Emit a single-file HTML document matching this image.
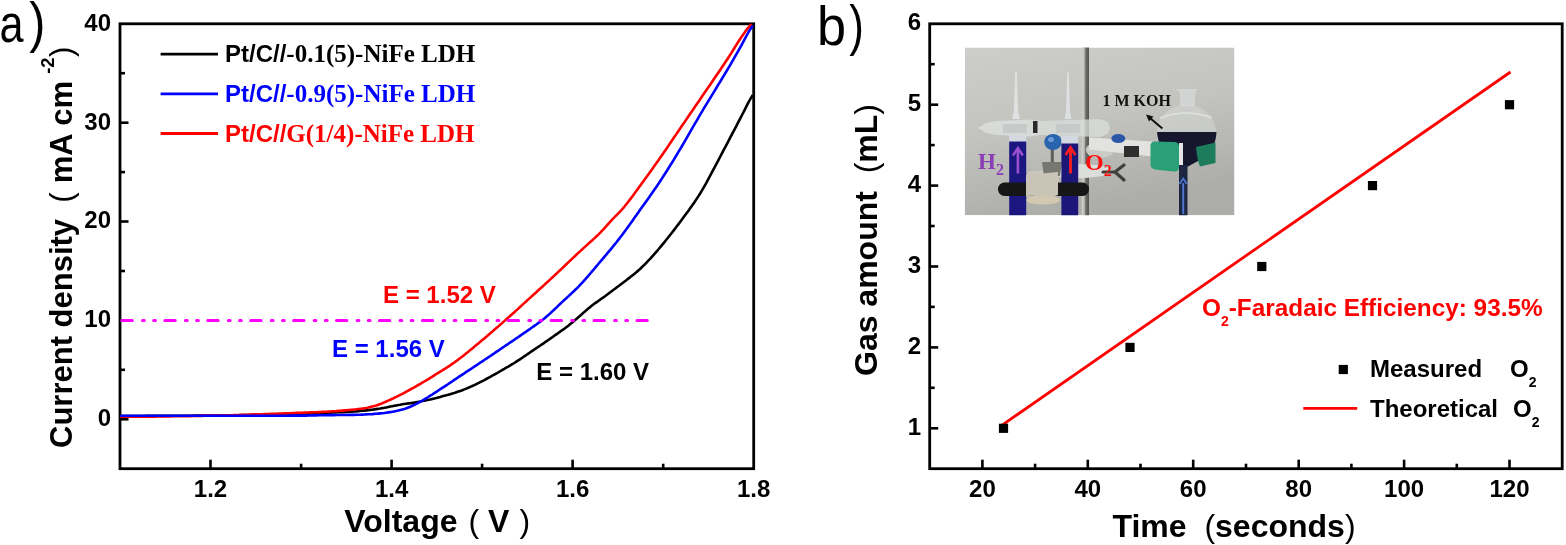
<!DOCTYPE html>
<html><head><meta charset="utf-8"><title>figure</title><style>html,body{margin:0;padding:0;background:#fff;overflow:hidden}svg{display:block}</style></head><body>
<svg width="1566" height="545" viewBox="0 0 1566 545">
<rect width="1566" height="545" fill="#fff"/>
<g font-family="'Liberation Sans', Arial, sans-serif" font-size="54" fill="#000"><text transform="translate(-0.5,41.8) scale(0.8,1)">a</text><text transform="translate(29.2,41.2) scale(0.88,1)" font-size="55">)</text></g>
<g font-family="'Liberation Sans', Arial, sans-serif" font-size="55" fill="#000"><text transform="translate(817,44.6) scale(0.95,1)">b</text><text transform="translate(849.3,43.6) scale(0.8,1)">)</text></g>
<rect x="120.0" y="23.8" width="633.7" height="444.9" fill="none" stroke="#000" stroke-width="2.8"/>
<line x1="120.0" y1="419.3" x2="128.5" y2="419.3" stroke="#000" stroke-width="2.6"/>
<line x1="120.0" y1="369.8" x2="125.0" y2="369.8" stroke="#000" stroke-width="2.6"/>
<line x1="120.0" y1="320.4" x2="128.5" y2="320.4" stroke="#000" stroke-width="2.6"/>
<line x1="120.0" y1="271.0" x2="125.0" y2="271.0" stroke="#000" stroke-width="2.6"/>
<line x1="120.0" y1="221.5" x2="128.5" y2="221.5" stroke="#000" stroke-width="2.6"/>
<line x1="120.0" y1="172.1" x2="125.0" y2="172.1" stroke="#000" stroke-width="2.6"/>
<line x1="120.0" y1="122.7" x2="128.5" y2="122.7" stroke="#000" stroke-width="2.6"/>
<line x1="120.0" y1="73.2" x2="125.0" y2="73.2" stroke="#000" stroke-width="2.6"/>
<text x="111" y="426.1" text-anchor="end" font-family="'Liberation Sans', Arial, sans-serif" font-weight="bold" font-size="24">0</text>
<text x="111" y="327.2" text-anchor="end" font-family="'Liberation Sans', Arial, sans-serif" font-weight="bold" font-size="24">10</text>
<text x="111" y="228.3" text-anchor="end" font-family="'Liberation Sans', Arial, sans-serif" font-weight="bold" font-size="24">20</text>
<text x="111" y="129.5" text-anchor="end" font-family="'Liberation Sans', Arial, sans-serif" font-weight="bold" font-size="24">30</text>
<text x="111" y="30.6" text-anchor="end" font-family="'Liberation Sans', Arial, sans-serif" font-weight="bold" font-size="24">40</text>
<line x1="210.5" y1="468.7" x2="210.5" y2="459.7" stroke="#000" stroke-width="2.6"/>
<line x1="301.1" y1="468.7" x2="301.1" y2="463.7" stroke="#000" stroke-width="2.6"/>
<line x1="391.6" y1="468.7" x2="391.6" y2="459.7" stroke="#000" stroke-width="2.6"/>
<line x1="482.1" y1="468.7" x2="482.1" y2="463.7" stroke="#000" stroke-width="2.6"/>
<line x1="572.6" y1="468.7" x2="572.6" y2="459.7" stroke="#000" stroke-width="2.6"/>
<line x1="663.2" y1="468.7" x2="663.2" y2="463.7" stroke="#000" stroke-width="2.6"/>
<text x="210.5" y="496.5" text-anchor="middle" font-family="'Liberation Sans', Arial, sans-serif" font-weight="bold" font-size="24">1.2</text>
<text x="391.6" y="496.5" text-anchor="middle" font-family="'Liberation Sans', Arial, sans-serif" font-weight="bold" font-size="24">1.4</text>
<text x="572.6" y="496.5" text-anchor="middle" font-family="'Liberation Sans', Arial, sans-serif" font-weight="bold" font-size="24">1.6</text>
<text x="753.7" y="496.5" text-anchor="middle" font-family="'Liberation Sans', Arial, sans-serif" font-weight="bold" font-size="24">1.8</text>
<path d="M120.3,416.0 L122.3,416.0 L124.3,416.0 L126.3,416.0 L128.3,416.0 L130.3,416.0 L132.3,416.0 L134.3,416.0 L136.3,416.0 L138.3,416.0 L140.3,416.0 L142.3,416.0 L144.3,416.0 L146.3,415.9 L148.3,415.9 L150.3,415.9 L152.3,415.9 L154.3,415.9 L156.3,415.9 L158.3,415.9 L160.3,415.9 L162.3,415.9 L164.3,415.9 L166.3,415.8 L168.3,415.8 L170.3,415.8 L172.3,415.8 L174.3,415.8 L176.3,415.8 L178.3,415.8 L180.3,415.7 L182.3,415.7 L184.3,415.7 L186.3,415.7 L188.3,415.7 L190.3,415.7 L192.3,415.7 L194.3,415.6 L196.3,415.6 L198.3,415.6 L200.3,415.6 L202.3,415.6 L204.3,415.6 L206.3,415.5 L208.3,415.5 L210.3,415.5 L212.3,415.5 L214.3,415.5 L216.3,415.5 L218.3,415.4 L220.3,415.4 L222.3,415.4 L224.3,415.4 L226.3,415.3 L228.3,415.3 L230.3,415.3 L232.3,415.3 L234.3,415.2 L236.3,415.2 L238.3,415.2 L240.3,415.1 L242.3,415.1 L244.3,415.1 L246.3,415.1 L248.3,415.0 L250.3,415.0 L252.3,414.9 L254.3,414.9 L256.3,414.9 L258.3,414.8 L260.3,414.8 L262.3,414.8 L264.3,414.7 L266.3,414.7 L268.3,414.6 L270.3,414.6 L272.3,414.5 L274.3,414.5 L276.3,414.5 L278.3,414.4 L280.3,414.4 L282.3,414.3 L284.3,414.3 L286.3,414.2 L288.3,414.2 L290.3,414.1 L292.3,414.1 L294.3,414.0 L296.3,414.0 L298.3,413.9 L300.3,413.8 L302.3,413.8 L304.3,413.7 L306.3,413.7 L308.3,413.6 L310.3,413.5 L312.3,413.4 L314.3,413.3 L316.3,413.2 L318.3,413.1 L320.3,413.0 L322.3,412.9 L324.3,412.9 L326.3,412.8 L328.3,412.7 L330.3,412.6 L332.3,412.5 L334.3,412.4 L336.3,412.4 L338.3,412.3 L340.3,412.2 L342.3,412.1 L344.3,412.1 L346.3,412.0 L348.3,411.9 L350.3,411.8 L352.3,411.6 L354.3,411.5 L356.3,411.4 L358.3,411.2 L360.3,411.0 L362.3,410.8 L364.3,410.6 L366.3,410.4 L368.3,410.2 L370.3,409.9 L372.3,409.7 L374.3,409.4 L376.3,409.1 L378.3,408.8 L380.3,408.5 L382.3,408.1 L384.3,407.8 L386.3,407.4 L388.3,407.0 L390.3,406.6 L392.3,406.2 L394.3,405.8 L396.3,405.4 L398.3,405.0 L400.3,404.7 L402.3,404.3 L404.3,404.0 L406.3,403.7 L408.3,403.4 L410.3,403.2 L412.3,402.9 L414.3,402.5 L416.3,402.2 L418.3,401.9 L420.3,401.5 L422.3,401.1 L424.3,400.7 L426.3,400.3 L428.3,399.8 L430.3,399.4 L432.3,398.9 L434.3,398.4 L436.3,397.9 L438.3,397.4 L440.3,396.9 L442.3,396.3 L444.3,395.8 L446.3,395.3 L448.3,394.8 L450.3,394.2 L452.3,393.6 L454.3,393.0 L456.3,392.3 L458.3,391.6 L460.3,390.9 L462.3,390.2 L464.3,389.4 L466.3,388.6 L468.3,387.8 L470.3,386.9 L472.3,386.0 L474.3,385.1 L476.3,384.1 L478.3,383.1 L480.3,382.1 L482.3,381.1 L484.3,380.1 L486.3,379.0 L488.3,377.9 L490.3,376.8 L492.3,375.7 L494.3,374.6 L496.3,373.5 L498.3,372.3 L500.3,371.2 L502.3,370.0 L504.3,368.9 L506.3,367.7 L508.3,366.6 L510.3,365.4 L512.3,364.2 L514.3,363.0 L516.3,361.7 L518.3,360.4 L520.3,359.1 L522.3,357.7 L524.3,356.3 L526.3,355.0 L528.3,353.6 L530.3,352.2 L532.3,350.9 L534.3,349.5 L536.3,348.2 L538.3,346.8 L540.3,345.5 L542.3,344.1 L544.3,342.8 L546.3,341.4 L548.3,340.0 L550.3,338.6 L552.3,337.2 L554.3,335.8 L556.3,334.4 L558.3,333.0 L560.3,331.5 L562.3,330.1 L564.3,328.7 L566.3,327.2 L568.3,325.7 L570.3,324.1 L572.3,322.5 L574.3,320.8 L576.3,319.1 L578.3,317.3 L580.3,315.6 L582.3,313.8 L584.3,312.1 L586.3,310.3 L588.3,308.6 L590.3,306.9 L592.3,305.3 L594.3,303.8 L596.3,302.4 L598.3,301.0 L600.3,299.5 L602.3,298.1 L604.3,296.7 L606.3,295.2 L608.3,293.7 L610.3,292.2 L612.3,290.7 L614.3,289.2 L616.3,287.7 L618.3,286.2 L620.3,284.7 L622.3,283.2 L624.3,281.7 L626.3,280.2 L628.3,278.6 L630.3,277.1 L632.3,275.5 L634.3,273.9 L636.3,272.3 L638.3,270.5 L640.3,268.7 L642.3,266.8 L644.3,264.9 L646.3,262.8 L648.3,260.7 L650.3,258.6 L652.3,256.3 L654.3,254.1 L656.3,251.8 L658.3,249.5 L660.3,247.1 L662.3,244.7 L664.3,242.3 L666.3,239.8 L668.3,237.3 L670.3,234.8 L672.3,232.2 L674.3,229.6 L676.3,227.0 L678.3,224.4 L680.3,221.7 L682.3,219.0 L684.3,216.3 L686.3,213.6 L688.3,210.9 L690.3,208.1 L692.3,205.3 L694.3,202.4 L696.3,199.4 L698.3,196.4 L700.3,193.2 L702.3,189.8 L704.3,186.3 L706.3,182.8 L708.3,179.1 L710.3,175.3 L712.3,171.6 L714.3,167.8 L716.3,164.1 L718.3,160.3 L720.3,156.5 L722.3,152.7 L724.3,148.9 L726.3,145.1 L728.3,141.3 L730.3,137.4 L732.3,133.7 L734.3,129.9 L736.3,126.1 L738.3,122.2 L740.3,118.4 L742.3,114.5 L744.3,110.6 L746.3,106.6 L748.3,102.7 L750.3,99.0 L752.3,96.0 L752.5,94.8" fill="none" stroke="#000" stroke-width="2.6" stroke-linejoin="round"/>
<path d="M120.3,416.8 L122.3,416.8 L124.3,416.8 L126.3,416.8 L128.3,416.8 L130.3,416.8 L132.3,416.8 L134.3,416.7 L136.3,416.7 L138.3,416.7 L140.3,416.7 L142.3,416.7 L144.3,416.7 L146.3,416.7 L148.3,416.6 L150.3,416.6 L152.3,416.6 L154.3,416.6 L156.3,416.5 L158.3,416.5 L160.3,416.5 L162.3,416.5 L164.3,416.4 L166.3,416.4 L168.3,416.4 L170.3,416.4 L172.3,416.3 L174.3,416.3 L176.3,416.3 L178.3,416.2 L180.3,416.2 L182.3,416.2 L184.3,416.2 L186.3,416.1 L188.3,416.1 L190.3,416.1 L192.3,416.0 L194.3,416.0 L196.3,416.0 L198.3,415.9 L200.3,415.9 L202.3,415.9 L204.3,415.8 L206.3,415.8 L208.3,415.7 L210.3,415.7 L212.3,415.7 L214.3,415.6 L216.3,415.6 L218.3,415.6 L220.3,415.5 L222.3,415.5 L224.3,415.4 L226.3,415.4 L228.3,415.3 L230.3,415.3 L232.3,415.2 L234.3,415.1 L236.3,415.1 L238.3,415.0 L240.3,415.0 L242.3,414.9 L244.3,414.8 L246.3,414.8 L248.3,414.7 L250.3,414.6 L252.3,414.6 L254.3,414.5 L256.3,414.4 L258.3,414.4 L260.3,414.3 L262.3,414.2 L264.3,414.1 L266.3,414.1 L268.3,414.0 L270.3,413.9 L272.3,413.8 L274.3,413.8 L276.3,413.7 L278.3,413.6 L280.3,413.5 L282.3,413.5 L284.3,413.4 L286.3,413.3 L288.3,413.2 L290.3,413.2 L292.3,413.1 L294.3,413.0 L296.3,412.9 L298.3,412.8 L300.3,412.8 L302.3,412.7 L304.3,412.6 L306.3,412.5 L308.3,412.5 L310.3,412.4 L312.3,412.3 L314.3,412.2 L316.3,412.2 L318.3,412.1 L320.3,412.0 L322.3,411.9 L324.3,411.8 L326.3,411.7 L328.3,411.6 L330.3,411.5 L332.3,411.3 L334.3,411.2 L336.3,411.1 L338.3,410.9 L340.3,410.8 L342.3,410.6 L344.3,410.4 L346.3,410.2 L348.3,410.0 L350.3,409.9 L352.3,409.7 L354.3,409.5 L356.3,409.3 L358.3,409.0 L360.3,408.8 L362.3,408.6 L364.3,408.3 L366.3,408.0 L368.3,407.6 L370.3,407.1 L372.3,406.6 L374.3,406.1 L376.3,405.5 L378.3,404.8 L380.3,404.1 L382.3,403.3 L384.3,402.4 L386.3,401.5 L388.3,400.6 L390.3,399.7 L392.3,398.8 L394.3,397.8 L396.3,396.9 L398.3,395.9 L400.3,394.9 L402.3,393.9 L404.3,392.8 L406.3,391.7 L408.3,390.6 L410.3,389.5 L412.3,388.4 L414.3,387.3 L416.3,386.1 L418.3,385.0 L420.3,383.9 L422.3,382.7 L424.3,381.5 L426.3,380.3 L428.3,379.1 L430.3,377.8 L432.3,376.6 L434.3,375.3 L436.3,374.0 L438.3,372.8 L440.3,371.6 L442.3,370.4 L444.3,369.1 L446.3,367.9 L448.3,366.6 L450.3,365.3 L452.3,363.9 L454.3,362.5 L456.3,361.0 L458.3,359.6 L460.3,358.0 L462.3,356.5 L464.3,354.9 L466.3,353.3 L468.3,351.7 L470.3,350.1 L472.3,348.4 L474.3,346.8 L476.3,345.1 L478.3,343.4 L480.3,341.7 L482.3,340.1 L484.3,338.4 L486.3,336.7 L488.3,335.0 L490.3,333.3 L492.3,331.6 L494.3,329.8 L496.3,328.1 L498.3,326.4 L500.3,324.6 L502.3,322.9 L504.3,321.1 L506.3,319.3 L508.3,317.6 L510.3,315.8 L512.3,314.0 L514.3,312.2 L516.3,310.4 L518.3,308.6 L520.3,306.7 L522.3,304.9 L524.3,303.1 L526.3,301.3 L528.3,299.4 L530.3,297.6 L532.3,295.8 L534.3,294.0 L536.3,292.2 L538.3,290.3 L540.3,288.5 L542.3,286.7 L544.3,284.9 L546.3,283.0 L548.3,281.2 L550.3,279.4 L552.3,277.5 L554.3,275.6 L556.3,273.8 L558.3,271.9 L560.3,270.0 L562.3,268.1 L564.3,266.2 L566.3,264.3 L568.3,262.4 L570.3,260.5 L572.3,258.6 L574.3,256.7 L576.3,254.8 L578.3,252.9 L580.3,251.1 L582.3,249.2 L584.3,247.4 L586.3,245.6 L588.3,243.8 L590.3,242.0 L592.3,240.2 L594.3,238.4 L596.3,236.5 L598.3,234.6 L600.3,232.6 L602.3,230.5 L604.3,228.3 L606.3,226.1 L608.3,223.8 L610.3,221.6 L612.3,219.4 L614.3,217.4 L616.3,215.3 L618.3,213.3 L620.3,211.3 L622.3,209.1 L624.3,206.8 L626.3,204.3 L628.3,201.7 L630.3,199.1 L632.3,196.4 L634.3,193.7 L636.3,191.0 L638.3,188.2 L640.3,185.5 L642.3,182.8 L644.3,180.0 L646.3,177.3 L648.3,174.5 L650.3,171.7 L652.3,168.9 L654.3,166.1 L656.3,163.3 L658.3,160.4 L660.3,157.6 L662.3,154.7 L664.3,151.8 L666.3,148.9 L668.3,145.9 L670.3,143.0 L672.3,140.0 L674.3,137.1 L676.3,134.1 L678.3,131.2 L680.3,128.3 L682.3,125.3 L684.3,122.4 L686.3,119.5 L688.3,116.5 L690.3,113.6 L692.3,110.7 L694.3,107.7 L696.3,104.8 L698.3,101.9 L700.3,99.0 L702.3,96.0 L704.3,93.1 L706.3,90.2 L708.3,87.3 L710.3,84.4 L712.3,81.5 L714.3,78.5 L716.3,75.6 L718.3,72.7 L720.3,69.7 L722.3,66.8 L724.3,63.8 L726.3,60.8 L728.3,57.7 L730.3,54.6 L732.3,51.4 L734.3,48.2 L736.3,44.9 L738.3,41.8 L740.3,38.7 L742.3,35.7 L744.3,32.9 L746.3,30.1 L748.3,27.6 L750.3,25.5 L751.5,24.0" fill="none" stroke="#ff0000" stroke-width="2.6" stroke-linejoin="round"/>
<path d="M120.3,415.7 L122.3,415.7 L124.3,415.7 L126.3,415.7 L128.3,415.7 L130.3,415.7 L132.3,415.7 L134.3,415.7 L136.3,415.7 L138.3,415.7 L140.3,415.7 L142.3,415.7 L144.3,415.8 L146.3,415.8 L148.3,415.8 L150.3,415.8 L152.3,415.8 L154.3,415.8 L156.3,415.8 L158.3,415.8 L160.3,415.8 L162.3,415.8 L164.3,415.8 L166.3,415.8 L168.3,415.8 L170.3,415.8 L172.3,415.8 L174.3,415.8 L176.3,415.8 L178.3,415.8 L180.3,415.8 L182.3,415.8 L184.3,415.8 L186.3,415.8 L188.3,415.8 L190.3,415.8 L192.3,415.8 L194.3,415.8 L196.3,415.8 L198.3,415.8 L200.3,415.8 L202.3,415.8 L204.3,415.8 L206.3,415.8 L208.3,415.8 L210.3,415.8 L212.3,415.8 L214.3,415.8 L216.3,415.8 L218.3,415.8 L220.3,415.8 L222.3,415.8 L224.3,415.8 L226.3,415.8 L228.3,415.8 L230.3,415.8 L232.3,415.8 L234.3,415.8 L236.3,415.8 L238.3,415.8 L240.3,415.8 L242.3,415.8 L244.3,415.8 L246.3,415.8 L248.3,415.8 L250.3,415.8 L252.3,415.8 L254.3,415.8 L256.3,415.8 L258.3,415.7 L260.3,415.7 L262.3,415.7 L264.3,415.7 L266.3,415.7 L268.3,415.7 L270.3,415.7 L272.3,415.7 L274.3,415.7 L276.3,415.7 L278.3,415.7 L280.3,415.7 L282.3,415.7 L284.3,415.7 L286.3,415.7 L288.3,415.7 L290.3,415.6 L292.3,415.6 L294.3,415.6 L296.3,415.6 L298.3,415.6 L300.3,415.6 L302.3,415.6 L304.3,415.6 L306.3,415.6 L308.3,415.5 L310.3,415.5 L312.3,415.5 L314.3,415.4 L316.3,415.4 L318.3,415.3 L320.3,415.3 L322.3,415.2 L324.3,415.2 L326.3,415.2 L328.3,415.1 L330.3,415.1 L332.3,415.1 L334.3,415.1 L336.3,415.0 L338.3,415.0 L340.3,415.0 L342.3,415.0 L344.3,415.0 L346.3,415.0 L348.3,415.0 L350.3,414.9 L352.3,414.9 L354.3,414.9 L356.3,414.8 L358.3,414.8 L360.3,414.7 L362.3,414.6 L364.3,414.5 L366.3,414.4 L368.3,414.3 L370.3,414.2 L372.3,414.1 L374.3,413.9 L376.3,413.8 L378.3,413.6 L380.3,413.4 L382.3,413.2 L384.3,413.0 L386.3,412.7 L388.3,412.4 L390.3,412.1 L392.3,411.8 L394.3,411.4 L396.3,411.0 L398.3,410.6 L400.3,410.1 L402.3,409.6 L404.3,409.0 L406.3,408.3 L408.3,407.5 L410.3,406.7 L412.3,405.8 L414.3,404.9 L416.3,403.9 L418.3,402.8 L420.3,401.7 L422.3,400.6 L424.3,399.4 L426.3,398.2 L428.3,397.0 L430.3,395.7 L432.3,394.5 L434.3,393.2 L436.3,391.9 L438.3,390.5 L440.3,389.2 L442.3,387.9 L444.3,386.6 L446.3,385.3 L448.3,384.0 L450.3,382.6 L452.3,381.3 L454.3,379.9 L456.3,378.6 L458.3,377.2 L460.3,375.9 L462.3,374.6 L464.3,373.3 L466.3,371.9 L468.3,370.6 L470.3,369.3 L472.3,368.0 L474.3,366.7 L476.3,365.4 L478.3,364.0 L480.3,362.7 L482.3,361.4 L484.3,360.0 L486.3,358.7 L488.3,357.3 L490.3,356.0 L492.3,354.6 L494.3,353.3 L496.3,351.9 L498.3,350.6 L500.3,349.2 L502.3,347.8 L504.3,346.5 L506.3,345.1 L508.3,343.8 L510.3,342.4 L512.3,341.1 L514.3,339.7 L516.3,338.3 L518.3,337.0 L520.3,335.6 L522.3,334.2 L524.3,332.9 L526.3,331.5 L528.3,330.1 L530.3,328.7 L532.3,327.3 L534.3,325.9 L536.3,324.5 L538.3,323.0 L540.3,321.6 L542.3,320.1 L544.3,318.5 L546.3,316.8 L548.3,315.1 L550.3,313.3 L552.3,311.4 L554.3,309.5 L556.3,307.6 L558.3,305.6 L560.3,303.8 L562.3,301.9 L564.3,300.0 L566.3,298.2 L568.3,296.4 L570.3,294.5 L572.3,292.6 L574.3,290.7 L576.3,288.8 L578.3,286.8 L580.3,284.7 L582.3,282.6 L584.3,280.4 L586.3,278.1 L588.3,275.9 L590.3,273.5 L592.3,271.2 L594.3,268.8 L596.3,266.4 L598.3,264.0 L600.3,261.7 L602.3,259.3 L604.3,256.9 L606.3,254.6 L608.3,252.2 L610.3,249.8 L612.3,247.4 L614.3,244.9 L616.3,242.5 L618.3,239.9 L620.3,237.3 L622.3,234.7 L624.3,232.0 L626.3,229.3 L628.3,226.5 L630.3,223.7 L632.3,220.9 L634.3,218.1 L636.3,215.2 L638.3,212.4 L640.3,209.6 L642.3,206.8 L644.3,204.0 L646.3,201.2 L648.3,198.4 L650.3,195.6 L652.3,192.7 L654.3,189.8 L656.3,186.9 L658.3,184.0 L660.3,181.0 L662.3,177.9 L664.3,174.8 L666.3,171.7 L668.3,168.5 L670.3,165.3 L672.3,162.1 L674.3,158.8 L676.3,155.5 L678.3,152.2 L680.3,148.9 L682.3,145.5 L684.3,142.1 L686.3,138.6 L688.3,135.2 L690.3,131.7 L692.3,128.2 L694.3,124.7 L696.3,121.3 L698.3,117.8 L700.3,114.4 L702.3,111.1 L704.3,107.7 L706.3,104.4 L708.3,101.1 L710.3,97.8 L712.3,94.6 L714.3,91.3 L716.3,88.0 L718.3,84.7 L720.3,81.5 L722.3,78.2 L724.3,74.9 L726.3,71.5 L728.3,68.2 L730.3,64.8 L732.3,61.3 L734.3,57.9 L736.3,54.4 L738.3,50.9 L740.3,47.3 L742.3,43.6 L744.3,39.9 L746.3,36.2 L748.3,32.5 L750.3,29.2 L752.3,26.4 L752.5,25.4" fill="none" stroke="#0000ff" stroke-width="2.6" stroke-linejoin="round"/>
<line x1="121.9" y1="320.4" x2="647.3" y2="320.4" stroke="#ff00ff" stroke-width="3" stroke-linecap="round" stroke-dasharray="10.4 10.2 1.8 9.36 1.8 9.36"/>
<text x="344.3" y="531.8" font-family="'Liberation Sans', Arial, sans-serif" font-weight="bold" font-size="32" xml:space="preserve">Voltage <tspan font-weight="normal" dx="2">(</tspan><tspan dx="0.1"> V </tspan><tspan font-weight="normal" dx="1.3">)</tspan></text>
<g font-family="'Liberation Sans', Arial, sans-serif" font-size="31"><text transform="translate(71.5,448) rotate(-90)" font-weight="bold">Current density</text><text transform="translate(71.5,202.7) rotate(-90)">(</text><text transform="translate(71.5,183.2) rotate(-90)" font-weight="bold">mA cm</text><text transform="translate(54.3,73.8) rotate(-90)" font-weight="bold" font-size="18.5">-2</text><text transform="translate(71.5,57.1) rotate(-90)">)</text></g>
<line x1="160.6" y1="54.2" x2="218" y2="54.2" stroke="#000" stroke-width="2.8"/>
<text x="225" y="62.2" font-size="24" font-weight="bold" fill="#000"><tspan font-family="'Liberation Sans', Arial, sans-serif">Pt/C//</tspan><tspan font-family="'Liberation Serif', 'Times New Roman', serif" font-size="25">-0.1(5)-NiFe LDH</tspan></text>
<line x1="160.6" y1="93.8" x2="218" y2="93.8" stroke="#0000ff" stroke-width="2.8"/>
<text x="225" y="101.8" font-size="24" font-weight="bold" fill="#0000ff"><tspan font-family="'Liberation Sans', Arial, sans-serif">Pt/C//</tspan><tspan font-family="'Liberation Serif', 'Times New Roman', serif" font-size="25">-0.9(5)-NiFe LDH</tspan></text>
<line x1="160.6" y1="133.5" x2="218" y2="133.5" stroke="#ff0000" stroke-width="2.8"/>
<text x="225" y="141.5" font-size="24" font-weight="bold" fill="#ff0000"><tspan font-family="'Liberation Sans', Arial, sans-serif">Pt/C//</tspan><tspan font-family="'Liberation Serif', 'Times New Roman', serif" font-size="25">G(1/4)-NiFe LDH</tspan></text>
<text x="383" y="302.9" font-family="'Liberation Sans', Arial, sans-serif" font-weight="bold" font-size="24" fill="#ff0000">E = 1.52 V</text>
<text x="332" y="357.1" font-family="'Liberation Sans', Arial, sans-serif" font-weight="bold" font-size="24" fill="#0000ff">E = 1.56 V</text>
<text x="536.3" y="380.3" font-family="'Liberation Sans', Arial, sans-serif" font-weight="bold" font-size="24" fill="#000">E = 1.60 V</text>
<defs>
<linearGradient id="pbg" x1="0" y1="0" x2="0.3" y2="1">
<stop offset="0" stop-color="#cdcecb"/><stop offset="0.5" stop-color="#c3c4c0"/><stop offset="1" stop-color="#adaea9"/>
</linearGradient>
<linearGradient id="rodg" x1="0" y1="0" x2="1" y2="0">
<stop offset="0" stop-color="#d4d5d1"/><stop offset="0.35" stop-color="#b9b9b4"/><stop offset="0.55" stop-color="#6e6e68"/><stop offset="1" stop-color="#55554f"/>
</linearGradient>
<radialGradient id="bulbg" cx="0.45" cy="0.35" r="0.6">
<stop offset="0" stop-color="#e4e7e6"/><stop offset="0.7" stop-color="#cfd2d1"/><stop offset="1" stop-color="#b9bcbb"/>
</radialGradient>
<clipPath id="pclip"><rect x="964.7" y="47.5" width="269.8" height="167.8"/></clipPath>
<clipPath id="bulb"><circle cx="1186.5" cy="134.5" r="30"/></clipPath>
<filter id="soft" x="-5%" y="-5%" width="110%" height="110%"><feGaussianBlur stdDeviation="0.6"/></filter>
</defs>
<g clip-path="url(#pclip)" filter="url(#soft)">
<rect x="964.7" y="47.5" width="269.8" height="167.8" fill="url(#pbg)"/>
<!-- stand rod -->
<rect x="1081.8" y="44" width="7.2" height="175" fill="url(#rodg)"/>
<!-- thin glass capillaries -->
<path d="M1015.2,72 L1016.8,72 L1018.2,112 L1020,119 L1012,119 L1013.8,112 Z" fill="#e3e6e8" opacity="0.8"/>
<path d="M1067.3,72 L1068.8,72 L1070,112 L1071.5,119 L1064.5,119 L1066,112 Z" fill="#e3e6e8" opacity="0.8"/>
<!-- horizontal glass pieces -->
<path d="M978,128 L986,123 L996,121 L1032,119.5 L1040,121 L1040,135 L1030,136.5 L996,135 L986,133 Z" fill="#dfe2df" opacity="0.75"/>
<path d="M1040,121 L1100,119 L1108,122 L1110,128 L1108,134 L1100,137 L1040,135 Z" fill="#dadedb" opacity="0.75"/>
<rect x="1033" y="121" width="4.5" height="12" fill="#2a2a2a"/>
<rect x="1003" y="124" width="24" height="9" fill="#c6cac8"/>
<rect x="1056" y="124" width="24" height="9" fill="#c6cac8"/>
<!-- white platform / base -->
<ellipse cx="1078" cy="171" rx="34" ry="7" fill="#dcdedb"/><ellipse cx="1100" cy="150" rx="14" ry="8" fill="#c9cbc7"/>
<ellipse cx="1043" cy="200" rx="17" ry="4.5" fill="#d2c9b0"/>
<path d="M1028,172 L1058,168 L1060,196 L1026,197 Z" fill="#cbc7ba"/>
<!-- knob & stems -->
<rect x="1050.8" y="146" width="3" height="22" fill="#5e5e5a"/>
<path d="M1042,162 L1062,162 L1060,176 L1044,176 Z" fill="#77766f"/>
<ellipse cx="1053" cy="142" rx="8.8" ry="8" fill="#2c64ae"/><ellipse cx="1051" cy="139.5" rx="3" ry="2.5" fill="#6e9bd6"/>
<!-- tubes -->
<rect x="1009.2" y="135" width="17" height="8" fill="#d4d8e0"/>
<rect x="1009.2" y="141.5" width="17" height="76" fill="#1d1880"/>
<rect x="1061.4" y="136" width="16.8" height="8" fill="#d4d8e0"/>
<rect x="1061.4" y="143.5" width="16.8" height="76" fill="#1b1878"/>
<!-- arrows in tubes -->
<path d="M1017.9,173.5 L1017.9,150" stroke="#9a50d2" stroke-width="2.6"/>
<path d="M1013,155.5 L1017.9,148 L1022.8,155.5" fill="none" stroke="#9a50d2" stroke-width="2.4"/>
<path d="M1070.5,173.5 L1070.5,150" stroke="#ff1e1e" stroke-width="2.8"/>
<path d="M1065.6,155 L1070.5,147.5 L1075.4,155" fill="none" stroke="#ff1e1e" stroke-width="2.6"/>
<!-- black clamp band -->
<rect x="998" y="182.5" width="40" height="13.5" rx="6.5" fill="#161616"/>
<rect x="1052" y="182.5" width="37" height="13.5" rx="6.5" fill="#161616"/>
<path d="M1026,175 L1058,172 L1058,195 L1026,196 Z" fill="#c9c4b5"/>
<!-- metal arm to flask -->
<path d="M1089,137.5 L1152,141.5 L1152,156.5 L1089,149.5 Z" fill="#e2e3e0"/>
<ellipse cx="1118.3" cy="138.5" rx="7" ry="4.5" fill="#2b58a6"/>
<rect x="1124" y="146" width="15" height="11" fill="#2f2f2d"/>
<!-- claw -->
<path d="M1103,172 L1115,172 L1124,165 M1115,172 L1124,180" fill="none" stroke="#3f3f3c" stroke-width="3.2" stroke-linecap="round"/>
<!-- flask -->
<path d="M1176,89 L1198,89 L1195,93 L1195,106 L1180,106 L1180,93 Z" fill="#dfe2e1" opacity="0.55"/>
<circle cx="1186.5" cy="134.5" r="30" fill="#e2e5e4" opacity="0.35"/>
<path d="M1160,118 Q1186,108 1212,118" fill="none" stroke="#eef0ef" stroke-width="1.6" opacity="0.6"/>
<path d="M1157,132 L1216.5,132 Q1216,150 1200,160 L1187,167 L1175,160 Q1158,150 1157,132 Z" fill="#15152e"/>
<!-- green clamp -->
<path d="M1150.5,145 Q1151,141.5 1155,141.5 L1175,142 Q1179,142.5 1179,147 L1179,168 Q1178,172 1174,171.5 L1155,169.5 Q1150.5,168.5 1150.5,164 Z" fill="#2ba079"/>
<path d="M1196,147 L1215.5,142.5 L1215.5,163 L1200,166.5 Q1197,160 1196,147 Z" fill="#1f7c5b"/>
<rect x="1179" y="143" width="4" height="27" fill="#e4e6e4"/>
<!-- tube below flask -->
<rect x="1179" y="165" width="8.5" height="55" fill="#1b2540"/>
<path d="M1183.2,214 L1183.2,183" stroke="#4f75cf" stroke-width="2"/>
<path d="M1179.5,184 L1183.2,178.5 L1186.9,184" fill="none" stroke="#4f75cf" stroke-width="1.8"/>
<!-- KOH arrow -->
<path d="M1162.4,128.6 L1148.5,116.8" stroke="#111" stroke-width="2"/>
<path d="M1146,114.5 L1153.5,116.6 L1149,121.5 Z" fill="#111"/>
</g>
<text x="1102.4" y="106" font-family="'Liberation Serif', 'Times New Roman', serif" font-weight="bold" font-size="16" fill="#111">1 M KOH</text>
<text x="978" y="169.3" font-family="'Liberation Serif', 'Times New Roman', serif" font-weight="bold" font-size="23" fill="#8a3db5">H<tspan font-size="16" dy="5.5">2</tspan></text>
<text x="1085" y="170" font-family="'Liberation Serif', 'Times New Roman', serif" font-weight="bold" font-size="24" fill="#ff1010">O<tspan font-size="16" dy="5.5">2</tspan></text>

<rect x="929.7" y="23.8" width="632.5" height="444.9" fill="none" stroke="#000" stroke-width="2.8"/>
<line x1="929.7" y1="428.3" x2="938.2" y2="428.3" stroke="#000" stroke-width="2.6"/>
<line x1="929.7" y1="387.8" x2="934.7" y2="387.8" stroke="#000" stroke-width="2.6"/>
<line x1="929.7" y1="347.4" x2="938.2" y2="347.4" stroke="#000" stroke-width="2.6"/>
<line x1="929.7" y1="306.9" x2="934.7" y2="306.9" stroke="#000" stroke-width="2.6"/>
<line x1="929.7" y1="266.5" x2="938.2" y2="266.5" stroke="#000" stroke-width="2.6"/>
<line x1="929.7" y1="226.0" x2="934.7" y2="226.0" stroke="#000" stroke-width="2.6"/>
<line x1="929.7" y1="185.6" x2="938.2" y2="185.6" stroke="#000" stroke-width="2.6"/>
<line x1="929.7" y1="145.1" x2="934.7" y2="145.1" stroke="#000" stroke-width="2.6"/>
<line x1="929.7" y1="104.7" x2="938.2" y2="104.7" stroke="#000" stroke-width="2.6"/>
<line x1="929.7" y1="64.2" x2="934.7" y2="64.2" stroke="#000" stroke-width="2.6"/>
<text x="921" y="434.9" text-anchor="end" font-family="'Liberation Sans', Arial, sans-serif" font-weight="bold" font-size="24">1</text>
<text x="921" y="354.0" text-anchor="end" font-family="'Liberation Sans', Arial, sans-serif" font-weight="bold" font-size="24">2</text>
<text x="921" y="273.1" text-anchor="end" font-family="'Liberation Sans', Arial, sans-serif" font-weight="bold" font-size="24">3</text>
<text x="921" y="192.2" text-anchor="end" font-family="'Liberation Sans', Arial, sans-serif" font-weight="bold" font-size="24">4</text>
<text x="921" y="111.3" text-anchor="end" font-family="'Liberation Sans', Arial, sans-serif" font-weight="bold" font-size="24">5</text>
<text x="921" y="30.4" text-anchor="end" font-family="'Liberation Sans', Arial, sans-serif" font-weight="bold" font-size="24">6</text>
<line x1="982.4" y1="468.7" x2="982.4" y2="459.7" stroke="#000" stroke-width="2.6"/>
<line x1="1035.1" y1="468.7" x2="1035.1" y2="463.7" stroke="#000" stroke-width="2.6"/>
<line x1="1087.8" y1="468.7" x2="1087.8" y2="459.7" stroke="#000" stroke-width="2.6"/>
<line x1="1140.5" y1="468.7" x2="1140.5" y2="463.7" stroke="#000" stroke-width="2.6"/>
<line x1="1193.2" y1="468.7" x2="1193.2" y2="459.7" stroke="#000" stroke-width="2.6"/>
<line x1="1246.0" y1="468.7" x2="1246.0" y2="463.7" stroke="#000" stroke-width="2.6"/>
<line x1="1298.7" y1="468.7" x2="1298.7" y2="459.7" stroke="#000" stroke-width="2.6"/>
<line x1="1351.4" y1="468.7" x2="1351.4" y2="463.7" stroke="#000" stroke-width="2.6"/>
<line x1="1404.1" y1="468.7" x2="1404.1" y2="459.7" stroke="#000" stroke-width="2.6"/>
<line x1="1456.8" y1="468.7" x2="1456.8" y2="463.7" stroke="#000" stroke-width="2.6"/>
<line x1="1509.5" y1="468.7" x2="1509.5" y2="459.7" stroke="#000" stroke-width="2.6"/>
<text x="982.4" y="497" text-anchor="middle" font-family="'Liberation Sans', Arial, sans-serif" font-weight="bold" font-size="24">20</text>
<text x="1087.8" y="497" text-anchor="middle" font-family="'Liberation Sans', Arial, sans-serif" font-weight="bold" font-size="24">40</text>
<text x="1193.2" y="497" text-anchor="middle" font-family="'Liberation Sans', Arial, sans-serif" font-weight="bold" font-size="24">60</text>
<text x="1298.7" y="497" text-anchor="middle" font-family="'Liberation Sans', Arial, sans-serif" font-weight="bold" font-size="24">80</text>
<text x="1404.1" y="497" text-anchor="middle" font-family="'Liberation Sans', Arial, sans-serif" font-weight="bold" font-size="24">100</text>
<text x="1509.5" y="497" text-anchor="middle" font-family="'Liberation Sans', Arial, sans-serif" font-weight="bold" font-size="24">120</text>
<line x1="1002.5" y1="424.8" x2="1510.5" y2="72" stroke="#ff0000" stroke-width="2.8"/>
<rect x="998.9" y="423.7" width="9.2" height="9.2" fill="#000"/>
<rect x="1125.4" y="342.8" width="9.2" height="9.2" fill="#000"/>
<rect x="1257.2" y="261.9" width="9.2" height="9.2" fill="#000"/>
<rect x="1367.9" y="181.0" width="9.2" height="9.2" fill="#000"/>
<rect x="1504.9" y="100.1" width="9.2" height="9.2" fill="#000"/>
<text x="1202" y="316" font-family="'Liberation Sans', Arial, sans-serif" font-weight="bold" font-size="24.35" fill="#ff0000">O<tspan font-size="14" dy="10">2</tspan><tspan dy="-10">-Faradaic Efficiency: 93.5%</tspan></text>
<rect x="1338.7" y="364.9" width="9.2" height="9.2" fill="#000"/>
<text x="1370" y="377" font-family="'Liberation Sans', Arial, sans-serif" font-weight="bold" font-size="24">Measured</text>
<text x="1510" y="377" font-family="'Liberation Sans', Arial, sans-serif" font-weight="bold" font-size="24">O<tspan font-size="14" dy="9.7">2</tspan></text>
<line x1="1303.3" y1="408.4" x2="1357.2" y2="408.4" stroke="#ff0000" stroke-width="2.8"/>
<text x="1370" y="416.8" font-family="'Liberation Sans', Arial, sans-serif" font-weight="bold" font-size="24">Theoretical</text>
<text x="1513" y="416.8" font-family="'Liberation Sans', Arial, sans-serif" font-weight="bold" font-size="24">O<tspan font-size="14" dy="9.7">2</tspan></text>
<text x="1112.5" y="537.3" font-family="'Liberation Sans', Arial, sans-serif" font-weight="bold" font-size="32" xml:space="preserve">Time  <tspan font-weight="normal">(</tspan>seconds<tspan font-weight="normal">)</tspan></text>
<text transform="translate(877,376) rotate(-90)" font-family="'Liberation Sans', Arial, sans-serif" font-weight="bold" font-size="32" xml:space="preserve">Gas amount  <tspan font-weight="normal">(</tspan>mL<tspan font-weight="normal">)</tspan></text>
</svg></body></html>
